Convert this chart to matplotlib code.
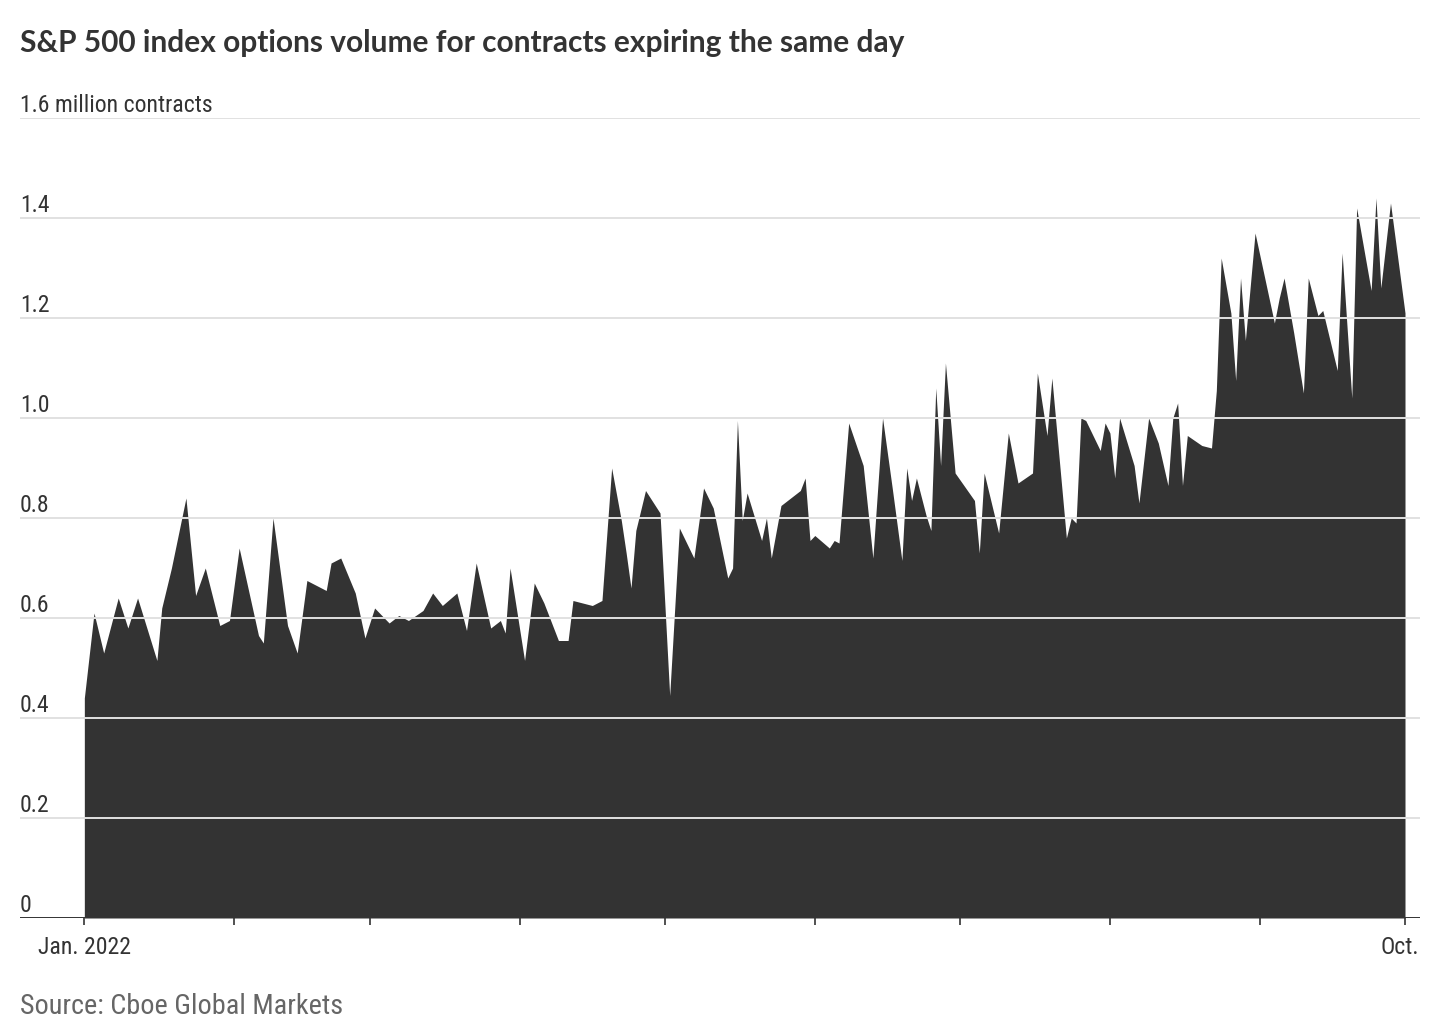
import matplotlib
matplotlib.use('Agg')
import matplotlib.pyplot as plt
import matplotlib.dates as mdates
import matplotlib.transforms as mtrans
import pandas as pd
from matplotlib import font_manager

# ---------------- data ----------------
dates = [
    "2022-01-01", "2022-01-03", "2022-01-05", "2022-01-08", "2022-01-10", "2022-01-12",
    "2022-01-16", "2022-01-17", "2022-01-19", "2022-01-22", "2022-01-24", "2022-01-26",
    "2022-01-29", "2022-01-31", "2022-02-02", "2022-02-06", "2022-02-07", "2022-02-09",
    "2022-02-12", "2022-02-14", "2022-02-16", "2022-02-20", "2022-02-21", "2022-02-23",
    "2022-02-26", "2022-02-28", "2022-03-02", "2022-03-05", "2022-03-07", "2022-03-09",
    "2022-03-12", "2022-03-14", "2022-03-16", "2022-03-19", "2022-03-21", "2022-03-23",
    "2022-03-26", "2022-03-28", "2022-03-29", "2022-03-30", "2022-04-02", "2022-04-04",
    "2022-04-06", "2022-04-09", "2022-04-11", "2022-04-12", "2022-04-16", "2022-04-18",
    "2022-04-20", "2022-04-22", "2022-04-23", "2022-04-24", "2022-04-25", "2022-04-27",
    "2022-04-30", "2022-05-02", "2022-05-04", "2022-05-07", "2022-05-09", "2022-05-11",
    "2022-05-14", "2022-05-15", "2022-05-16", "2022-05-17", "2022-05-18", "2022-05-21",
    "2022-05-22", "2022-05-23", "2022-05-25", "2022-05-29", "2022-05-30", "2022-05-31",
    "2022-06-01", "2022-06-04", "2022-06-05", "2022-06-06", "2022-06-08", "2022-06-11",
    "2022-06-13", "2022-06-15", "2022-06-17", "2022-06-19", "2022-06-20", "2022-06-21",
    "2022-06-22", "2022-06-24", "2022-06-25", "2022-06-26", "2022-06-27", "2022-06-28",
    "2022-06-30", "2022-07-04", "2022-07-05", "2022-07-06", "2022-07-09", "2022-07-11",
    "2022-07-13", "2022-07-16", "2022-07-17", "2022-07-19", "2022-07-20", "2022-07-23",
    "2022-07-24", "2022-07-25", "2022-07-26", "2022-07-27", "2022-07-30", "2022-07-31",
    "2022-08-01", "2022-08-02", "2022-08-03", "2022-08-06", "2022-08-07", "2022-08-09",
    "2022-08-11", "2022-08-13", "2022-08-14", "2022-08-15", "2022-08-16", "2022-08-17",
    "2022-08-20", "2022-08-22", "2022-08-23", "2022-08-24", "2022-08-26", "2022-08-27",
    "2022-08-28", "2022-08-29", "2022-08-31", "2022-09-04", "2022-09-05", "2022-09-06",
    "2022-09-08", "2022-09-10", "2022-09-11", "2022-09-13", "2022-09-14", "2022-09-17",
    "2022-09-18", "2022-09-20", "2022-09-21", "2022-09-24", "2022-09-25", "2022-09-26",
    "2022-09-28", "2022-10-01",
]
volume_millions = [
    0.44, 0.61, 0.53, 0.64, 0.58, 0.64,
    0.515, 0.62, 0.70, 0.84, 0.645, 0.70,
    0.585, 0.595, 0.74, 0.565, 0.55, 0.80,
    0.585, 0.53, 0.675, 0.655, 0.71, 0.72,
    0.65, 0.56, 0.62, 0.59, 0.605, 0.595,
    0.615, 0.65, 0.625, 0.65, 0.575, 0.71,
    0.58, 0.595, 0.57, 0.70, 0.515, 0.67,
    0.63, 0.555, 0.555, 0.635, 0.625, 0.635,
    0.90, 0.795, 0.73, 0.66, 0.775, 0.855,
    0.81, 0.445, 0.78, 0.72, 0.86, 0.82,
    0.68, 0.70, 0.995, 0.795, 0.85, 0.755,
    0.80, 0.72, 0.825, 0.855, 0.88, 0.755,
    0.765, 0.74, 0.755, 0.75, 0.99, 0.905,
    0.72, 1.00, 0.86, 0.715, 0.90, 0.835,
    0.88, 0.805, 0.775, 1.06, 0.905, 1.11,
    0.89, 0.835, 0.73, 0.89, 0.77, 0.97,
    0.87, 0.89, 1.09, 0.965, 1.08, 0.76,
    0.80, 0.79, 1.00, 0.995, 0.935, 0.99,
    0.97, 0.88, 1.00, 0.905, 0.83, 1.00,
    0.95, 0.865, 1.00, 1.03, 0.865, 0.965,
    0.945, 0.94, 1.055, 1.32, 1.21, 1.075,
    1.28, 1.155, 1.37, 1.19, 1.24, 1.28,
    1.17, 1.05, 1.28, 1.205, 1.215, 1.095,
    1.33, 1.04, 1.42, 1.255, 1.44, 1.26,
    1.43, 1.21,
]
y_ticks = [0, 0.2, 0.4, 0.6, 0.8, 1.0, 1.2, 1.4, 1.6]
y_tick_labels = ["0", "0.2", "0.4", "0.6", "0.8", "1.0", "1.2", "1.4", "1.6 million contracts"]
month_ticks = ["2022-01-01", "2022-02-01", "2022-03-01", "2022-04-01", "2022-05-01",
               "2022-06-01", "2022-07-01", "2022-08-01", "2022-09-01", "2022-10-01"]
month_labels = ["Jan. 2022", "", "", "", "", "", "", "", "", "Oct."]
title = "S&P 500 index options volume for contracts expiring the same day"
source = "Source: Cboe Global Markets"

# ---------------- fonts ----------------
names = {f.name for f in font_manager.fontManager.ttflist}
narrow = next((n for n in ['Liberation Sans Narrow', 'DejaVu Sans Condensed', 'Roboto Condensed', 'Roboto']
               if n in names), 'DejaVu Sans')
boldf = next((n for n in ['Lato', 'Roboto', 'Open Sans'] if n in names), 'DejaVu Sans')

W, H = 1430, 1034
fig = plt.figure(figsize=(W / 100, H / 100), dpi=100)
fig.patch.set_facecolor('white')

ax = fig.add_axes([20 / W, 116 / H, 1400 / W, 800 / H])
x = pd.to_datetime(dates)
ax.fill_between(x, volume_millions, 0, color='#333333', linewidth=0, zorder=2)

jan1 = mdates.date2num(pd.Timestamp("2022-01-01"))
ax.set_xlim(jan1 - 13.3, jan1 + 276.1)
ax.set_ylim(0, 1.6)

for s in ax.spines.values():
    s.set_visible(False)

for v in y_ticks[1:]:
    ax.axhline(v, color='#e1e1e1', lw=1.4, zorder=3)
ax.axhline(0, color='#333333', lw=1.4, zorder=4)

ax.set_yticks([])
ax.set_xticks(pd.to_datetime(month_ticks))
ax.set_xticklabels(month_labels)
ax.tick_params(axis='x', length=5, width=1.2, color='#333333', pad=8,
               labelsize=18, labelcolor='#333333')
for lab in ax.get_xticklabels():
    lab.set_fontfamily(narrow)
oct_lab = ax.get_xticklabels()[-1]
oct_lab.set_horizontalalignment('right')
oct_lab.set_transform(oct_lab.get_transform() + mtrans.ScaledTranslation(14 / 100, 0, fig.dpi_scale_trans))

off = mtrans.ScaledTranslation(0, 6 / 100, fig.dpi_scale_trans)
blend = mtrans.blended_transform_factory(ax.transAxes, ax.transData)
ylabs = []
for v, lab in zip(y_ticks, y_tick_labels):
    t = ax.text(0, v, lab, transform=blend + off, ha='left', va='baseline',
                fontsize=18, color='#333333', family=narrow, zorder=5)
    ylabs.append(t)

ttl = fig.text(20 / W, (H - 52) / H, title, ha='left', va='baseline', fontsize=21,
               fontweight='bold', family=boldf, color='#333333')
src = fig.text(20 / W, (H - 1014) / H, source, ha='left', va='baseline', fontsize=18,
               family=narrow, color='#666666')

# fit text widths to reference
fig.canvas.draw()
r = fig.canvas.get_renderer()
def fit(t, target):
    w = t.get_window_extent(r).width
    t.set_fontsize(t.get_fontsize() * target / w)
fit(ttl, 882)
fit(src, 323)
w = ylabs[-1].get_window_extent(r).width
fs = 18 * 193 / w
for t in ylabs:
    t.set_fontsize(fs)
for lab in ax.get_xticklabels():
    lab.set_fontsize(fs)

fig.savefig('out.png', dpi=100, facecolor='white')
